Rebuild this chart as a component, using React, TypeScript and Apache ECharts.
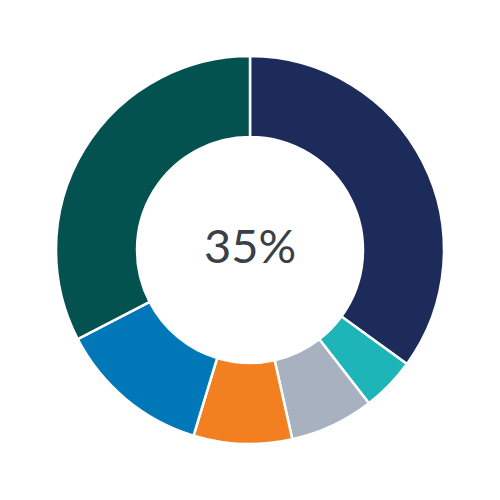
import { useEffect, useRef } from "react";
import * as echarts from "echarts";

const segmentNames = ["Navy", "Teal", "Grey", "Orange", "Blue", "Green"];
const segmentValues = [35, 4.5, 7, 8.2, 12.7, 32.6];
const segmentColors = ["#1d2b5a", "#1db5b7", "#a8b1bf", "#f38020", "#0077b6", "#03524f"];
const centerLabel = "35%";

export default function App() {
  const chartRef = useRef<HTMLDivElement>(null);

  useEffect(() => {
    const chart = echarts.init(chartRef.current, null, { renderer: "svg" });

    chart.setOption({
      animation: false,
      graphic: [
        {
          type: "text",
          left: "center",
          top: 221,
          style: {
            text: centerLabel,
            fontFamily: "Lato",
            fontSize: 47,
            fontWeight: 400,
            fill: "#3b3f47",
          },
        },
      ],
      series: [
        {
          type: "pie",
          radius: [113, 194],
          center: ["50%", "50%"],
          startAngle: 90,
          clockwise: true,
          label: { show: false },
          labelLine: { show: false },
          itemStyle: { borderColor: "#fff", borderWidth: 2.5 },
          data: segmentValues.map((v, i) => ({
            name: segmentNames[i],
            value: v,
            itemStyle: { color: segmentColors[i] },
          })),
        },
      ],
    });

    return () => {
      chart.dispose();
    };
  }, []);

  return (
    <div
      ref={chartRef}
      style={{ position: "absolute", left: 0, top: 0, width: "500px", height: "500px", background: "#fff" }}
    />
  );
}
